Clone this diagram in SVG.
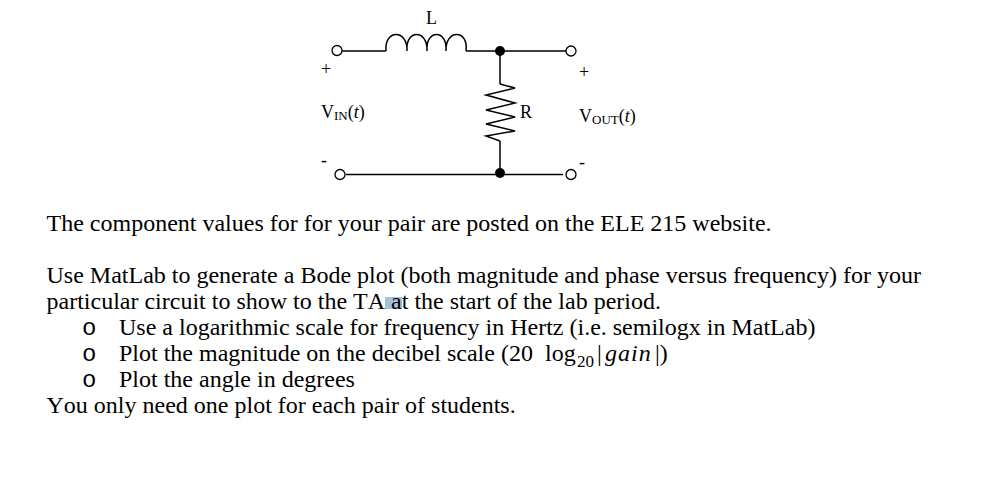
<svg xmlns="http://www.w3.org/2000/svg" width="1004" height="481" viewBox="0 0 1004 481">
<style>
text{font-family:"Liberation Serif","Times New Roman",serif;fill:#000}
.b{font-size:24px}
.nk{font-kerning:none}
.o{font-family:"Liberation Mono","Courier New",monospace}
.l{font-size:18px}
.s{font-size:13px}
.w{fill:none;stroke:#000;stroke-width:1.5}
.t{fill:#fff;stroke:#000;stroke-width:1.3}
.d{fill:#000}
</style>
<rect width="1004" height="481" fill="#fff"/>
<g id="connectors">
<path class="w" d="M342 51H386M466 51H500H566M500 51V84M500 141V173M346 174.500H500H563"/>
</g>
<g id="inductor"><path class="w" d="M386 51C384 29 408 29 407 51C405 29 428 29 427 51C425 29 448 29 446 51C445 29 469 29 466 51"/></g>
<g id="resistor"><path class="w" d="M500 84L515 88L486 95L515 103L486 110L515 117L486 124L515 131L486 136L500 141"/></g>
<g id="junction-top"><circle class="d" cx="500" cy="51" r="5"/></g>
<g id="junction-bottom"><circle class="d" cx="500" cy="173" r="5"/></g>
<g id="terminal-in-plus"><circle class="t" cx="337" cy="50.500" r="5"/></g>
<g id="terminal-in-minus"><circle class="t" cx="340" cy="174.500" r="5"/></g>
<g id="terminal-out-plus"><circle class="t" cx="571" cy="51" r="5"/></g>
<g id="terminal-out-minus"><circle class="t" cx="571" cy="174.500" r="5"/></g>
<g id="circuit-labels">
<text class="l" x="426" y="24">L</text>
<text class="l" x="321" y="75">+</text>
<text class="l" x="579" y="78">+</text>
<text class="l" x="321" y="166">-</text>
<text class="l" x="579" y="168">-</text>
<text class="l" x="520" y="118">R</text>
<text class="l" x="321" y="118">V<tspan class="s" dy="2">IN</tspan><tspan dy="-2">(</tspan><tspan font-style="italic">t</tspan>)</text>
<text class="l" x="579" y="122">V<tspan class="s" dy="2">OUT</tspan><tspan dy="-2">(</tspan><tspan font-style="italic">t</tspan>)</text>
</g>
<g id="body">
<text class="b" x="46.500" y="231">The component values for for your pair are posted on the ELE 215 website.</text>
<text class="b" x="46.500" y="283">Use MatLab to generate a Bode plot (both magnitude and phase versus frequency) for your</text>
<rect x="385" y="297" width="17" height="12" fill="#a3c0dc"/>
<text class="b nk" x="46.500" y="309">particular circuit to show to the TA at the start of the lab period.</text>
<text class="b o" x="82" y="335">o</text>
<text class="b" x="119" y="335">Use a logarithmic scale for frequency in Hertz (i.e. semilogx in MatLab)</text>
<text class="b o" x="82" y="361">o</text>
<text class="b" x="119" y="361">Plot the magnitude on the decibel scale (20</text>
<text class="b" x="545" y="361">log</text>
<text x="577" y="367" font-size="17">20</text>
<text class="b" x="597" y="361">|</text>
<text class="b" x="605" y="361" font-style="italic" letter-spacing="1">gain</text>
<text class="b" x="655" y="361">|)</text>
<text class="b o" x="82" y="387">o</text>
<text class="b" x="119" y="387">Plot the angle in degrees</text>
<text class="b nk" x="46.500" y="413">You only need one plot for each pair of students.</text>
</g>
</svg>
